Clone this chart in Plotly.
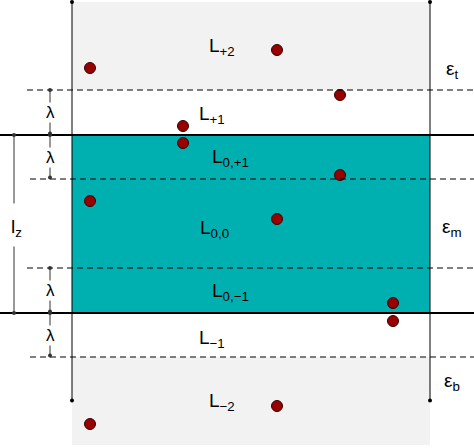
import plotly.graph_objects as go

# particle positions (diagram units)
pt_x = [90, 277, 340, 183, 183, 340, 90, 277, 393, 393, 90, 277]
pt_y = [68, 50, 95, 126, 143, 175, 201, 219, 303, 321, 424, 406]

# layer labels
layer_text = ['L<sub>+2</sub>', 'L<sub>+1</sub>', 'L<sub>0,+1</sub>', 'L<sub>0,0</sub>',
              'L<sub>0,\u22121</sub>', 'L<sub>\u22121</sub>', 'L<sub>\u22122</sub>']
layer_x = [222, 212, 230, 214, 230, 212, 222]
layer_y = [47, 115, 158, 229, 292, 339, 402]

# boundaries
solid_y = [135, 313]
dashed_y = [90, 179, 268, 357]
lam_spans = [(90, 135), (135, 179), (268, 313), (313, 357)]

eps_text = ['\u03b5<sub>t</sub>', '\u03b5<sub>m</sub>', '\u03b5<sub>b</sub>']
eps_y = [70, 228, 382]

fig = go.Figure()
shapes = [
    dict(type='rect', x0=72, x1=430, y0=2, y1=445, fillcolor='#f2f2f2', line_width=0, layer='below'),
    dict(type='rect', x0=72, x1=430, y0=90, y1=135, fillcolor='white', line_width=0, layer='below'),
    dict(type='rect', x0=72, x1=430, y0=313, y1=357, fillcolor='white', line_width=0, layer='below'),
    dict(type='rect', x0=72, x1=430, y0=135, y1=313, fillcolor='#00b0b0', line_width=0, layer='below'),
]
for y in solid_y:
    shapes.append(dict(type='line', x0=0, x1=474, y0=y, y1=y, line=dict(color='black', width=2)))
for i, y in enumerate(dashed_y):
    shapes.append(dict(type='line', x0=27 if i % 2 == 0 else 30, x1=474, y0=y, y1=y,
                       line=dict(color='black', width=1, dash='6px,4px')))
fig.update_layout(shapes=shapes)

anns = []
for x in [72, 430]:
    anns.append(dict(x=x, y=2, ax=x, ay=402, xref='x', yref='y', axref='x', ayref='y',
                     showarrow=True, arrowside='end+start', arrowhead=6, startarrowhead=6,
                     arrowwidth=1, arrowcolor='black', text=''))
anns.append(dict(x=14, y=135, ax=14, ay=205, xref='x', yref='y', axref='x', ayref='y',
                 showarrow=True, arrowhead=6, arrowwidth=1, arrowcolor='#333', text=''))
anns.append(dict(x=14, y=313, ax=14, ay=245, xref='x', yref='y', axref='x', ayref='y',
                 showarrow=True, arrowhead=6, arrowwidth=1, arrowcolor='#333', text=''))
anns.append(dict(x=16, y=228, text='l<sub>z</sub>', showarrow=False, font=dict(size=19)))
for a, b in lam_spans:
    anns.append(dict(x=50, y=a, ax=50, ay=b, xref='x', yref='y', axref='x', ayref='y',
                     showarrow=True, arrowside='end+start', arrowhead=6, startarrowhead=6,
                     arrowwidth=1, arrowcolor='#333', text=''))
    anns.append(dict(x=50, y=(a + b) / 2, text='\u03bb', showarrow=False, bgcolor='white',
                     font=dict(size=17), borderpad=0))
for t, x, y in zip(layer_text, layer_x, layer_y):
    anns.append(dict(x=x, y=y, text=t, showarrow=False, font=dict(size=19)))
for t, y in zip(eps_text, eps_y):
    anns.append(dict(x=452, y=y, text=t, showarrow=False, font=dict(size=19)))
fig.update_layout(annotations=anns)

fig.add_trace(go.Scatter(x=pt_x, y=pt_y, mode='markers',
                         marker=dict(size=11, color='#990000', line=dict(color='#330000', width=1))))

fig.update_layout(width=474, height=448, margin=dict(l=0, r=0, t=0, b=0),
                  plot_bgcolor='white', paper_bgcolor='white', showlegend=False,
                  font=dict(family='Liberation Sans', color='black'),
                  xaxis=dict(range=[0, 474], visible=False, fixedrange=True),
                  yaxis=dict(range=[448, 0], visible=False, fixedrange=True))
fig.write_html('out.html', post_script="document.body.style.margin='0';",
               config={'displayModeBar': False})
